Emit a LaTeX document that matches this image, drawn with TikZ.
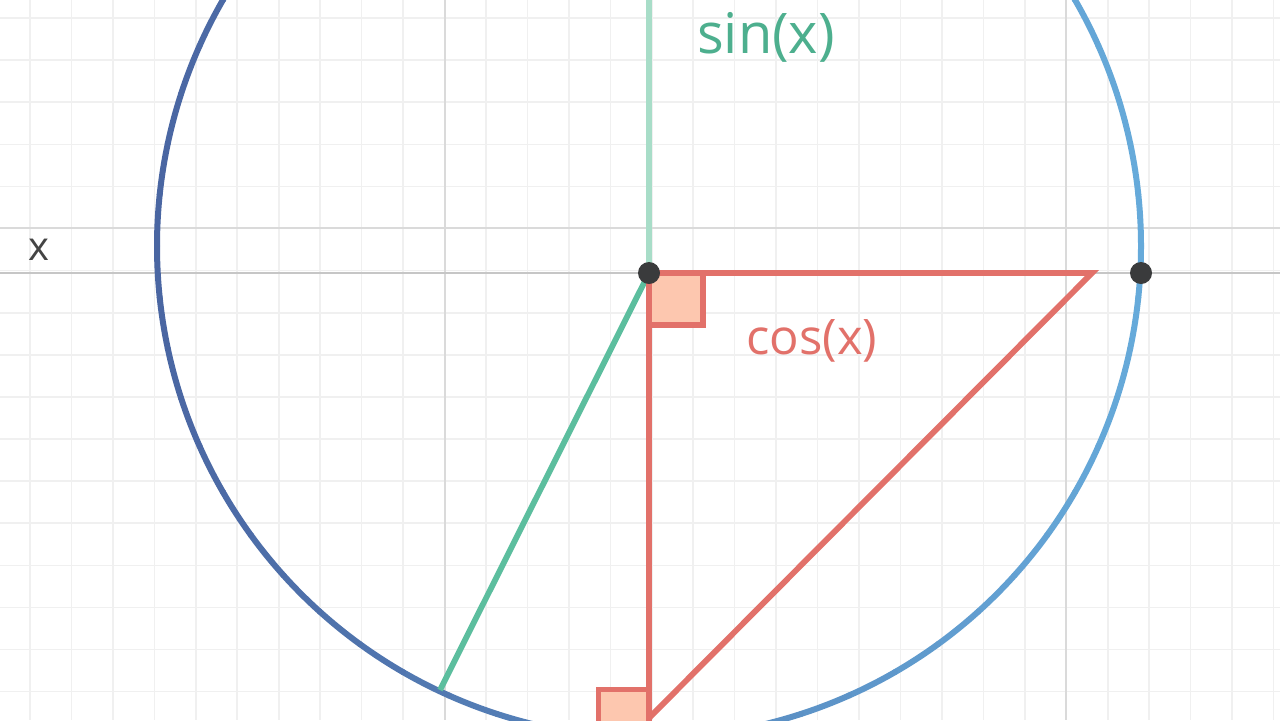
\documentclass[tikz,border=0pt]{standalone}
\usepackage{fontspec}
\setmainfont{Open Sans}
\definecolor{gridminor}{HTML}{F0F0F0}
\definecolor{gridmajor}{HTML}{DADADA}
\definecolor{axisgray}{HTML}{C6C6C6}
\definecolor{cdark}{HTML}{4A66A2}
\definecolor{clight}{HTML}{66AADA}
\definecolor{tealA}{HTML}{5CBE9E}
\definecolor{tealL}{HTML}{A8DDC8}
\definecolor{tealT}{HTML}{4DAF8E}
\definecolor{redA}{HTML}{E2716A}
\definecolor{peach}{HTML}{FDC7AF}
\definecolor{dotc}{HTML}{3A3B3C}
\definecolor{labgray}{HTML}{444444}
\begin{document}
\begin{tikzpicture}[x=0.5pt,y=-0.5pt,
  minorline/.style={draw=gridminor,line width=0.8pt},
  majorline/.style={draw=gridmajor,line width=1pt},
  axisline/.style={draw=axisgray,line width=1pt},
  redline/.style={draw=redA,line width=2.9pt,line join=miter},
  rightbox/.style={draw=redA,fill=peach,line width=2.9pt},
  dotnode/.style={fill=dotc},
  lab/.style={inner sep=0pt,outer sep=0pt}
]
\useasboundingbox (0,0) rectangle (1280,720);
\clip (0,0) rectangle (1280,720);
\fill[white] (0,0) rectangle (1280,720);
% grid
\foreach \k in {0,...,30} \draw[minorline] ({30+41.45*\k},0) -- ({30+41.45*\k},720);
\foreach \k in {0,...,16} \draw[minorline] (0,{18+42.1*\k}) -- (1280,{18+42.1*\k});
\draw[majorline] (444.5,0) -- (444.5,720);
\draw[majorline] (1066,0) -- (1066,720);
\draw[majorline] (0,228) -- (1280,228);
\draw[axisline] (0,273) -- (1280,273);
% points
\coordinate (C) at (649,246);
\coordinate (O) at (649,273);
\coordinate (P) at (1141,273);
\coordinate (Q) at (1092,273);
\coordinate (B) at (649,718);
\coordinate (Bd) at (649,740);
\coordinate (T) at (649,-10);
\coordinate (S) at (440,690);
% circle with gradient
\foreach \a in {0,6,...,354}{
  \pgfmathsetmacro\m{50+50*cos(\a+3)}
  \draw[line width=3pt,color=clight!\m!cdark,line cap=round] (C) ++(\a:492) arc[start angle=\a,end angle=\a+6,radius=492];
}
% sine line
\draw[tealL,line width=2.9pt] (T) -- (O);
% red triangle
\draw[redline] (O) -- (Q) -- (B);
\draw[redline] (O) -- (Bd);
% teal radius
\draw[tealA,line width=2.9pt] (O) -- (S);
% right angle boxes
\draw[rightbox] (649,273) rectangle (703,325);
\draw[rightbox] (598.5,689.5) rectangle (649,750);
% dots
\fill[dotnode] (O) circle (11);
\fill[dotnode] (P) circle (11);
% labels
\node[lab,text=tealT,font=\fontsize{28}{34}\selectfont] (sinl) at (766,37) {sin(x)};
\node[lab,text=redA,font=\fontsize{24.5}{30}\selectfont] (cosl) at (812,341) {cos(x)};
\node[lab,text=labgray,font=\fontsize{20}{24}\selectfont] (xl) at (38.5,249.5) {x};
\end{tikzpicture}
\end{document}
